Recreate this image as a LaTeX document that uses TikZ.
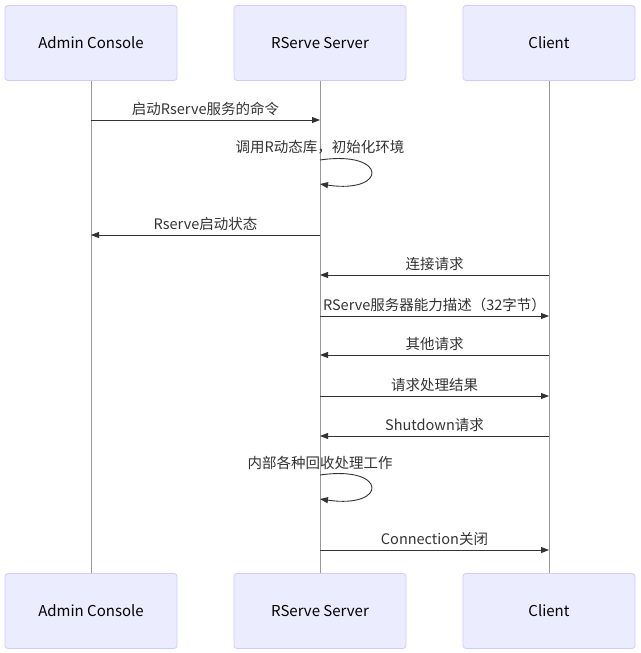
\documentclass[tikz,border=0pt]{standalone}
\usepackage{fontspec}
\setmainfont{Noto Sans CJK SC}
\usetikzlibrary{arrows.meta}
\definecolor{actfill}{HTML}{ECECFF}
\definecolor{actdraw}{HTML}{CCCCFF}
\definecolor{lifel}{HTML}{999999}
\definecolor{msg}{HTML}{333333}
\begin{document}
\begin{tikzpicture}[x=1pt,y=-1pt,
  actor/.style={draw=actdraw,fill=actfill,rounded corners=3pt,minimum width=172pt,minimum height=75pt,font=\fontsize{15}{17}\selectfont,text=black,line width=0.8pt},
  msgline/.style={draw=msg,line width=0.9pt,-{Triangle[length=8pt,width=6pt]}},
  lbl/.style={font=\fontsize{14.5}{17}\selectfont,text=msg,inner sep=1pt}]
\useasboundingbox (0,0) rectangle (640,653);
\node[actor] (a1) at (91,43) {Admin Console};
\node[actor] (s1) at (320,43) {RServe Server};
\node[actor] (c1) at (549,43) {Client};
\node[actor] (a2) at (91,611) {Admin Console};
\node[actor] (s2) at (320,611) {RServe Server};
\node[actor] (c2) at (549,611) {Client};
\draw[lifel,line width=0.6pt] (a1.south) -- (a2.north);
\draw[lifel,line width=0.6pt] (s1.south) -- (s2.north);
\draw[lifel,line width=0.6pt] (c1.south) -- (c2.north);
% messages
\coordinate (m1a) at (91,120); \coordinate (m1b) at (320,120);
\draw[msgline] (m1a) -- node[lbl,above=3pt]{启动Rserve服务的命令} (m1b);
\coordinate (l1) at (320,160); \coordinate (l1e) at (320,184);
\node[lbl] (l1t) at (320,147) {调用R动态库，初始化环境};
\draw[msgline] (l1) .. controls (388,150) and (388,194) .. (l1e);
\coordinate (m2a) at (320,235); \coordinate (m2b) at (91,235);
\draw[msgline] (m2a) -- node[lbl,above=3pt]{Rserve启动状态} (m2b);
\coordinate (m3a) at (549,275); \coordinate (m3b) at (320,275);
\draw[msgline] (m3a) -- node[lbl,above=3pt]{连接请求} (m3b);
\coordinate (m4a) at (320,316); \coordinate (m4b) at (549,316);
\draw[msgline] (m4a) -- node[lbl,above=3pt]{RServe服务器能力描述（32字节）} (m4b);
\coordinate (m5a) at (549,355); \coordinate (m5b) at (320,355);
\draw[msgline] (m5a) -- node[lbl,above=3pt]{其他请求} (m5b);
\coordinate (m6a) at (320,396); \coordinate (m6b) at (549,396);
\draw[msgline] (m6a) -- node[lbl,above=3pt]{请求处理结果} (m6b);
\coordinate (m7a) at (549,436); \coordinate (m7b) at (320,436);
\draw[msgline] (m7a) -- node[lbl,above=3pt]{Shutdown请求} (m7b);
\coordinate (l2) at (320,475); \coordinate (l2e) at (320,499);
\node[lbl] (l2t) at (320,463) {内部各种回收处理工作};
\draw[msgline] (l2) .. controls (388,465) and (388,509) .. (l2e);
\coordinate (m8a) at (320,550); \coordinate (m8b) at (549,550);
\draw[msgline] (m8a) -- node[lbl,above=3pt]{Connection关闭} (m8b);
\end{tikzpicture}
\end{document}
